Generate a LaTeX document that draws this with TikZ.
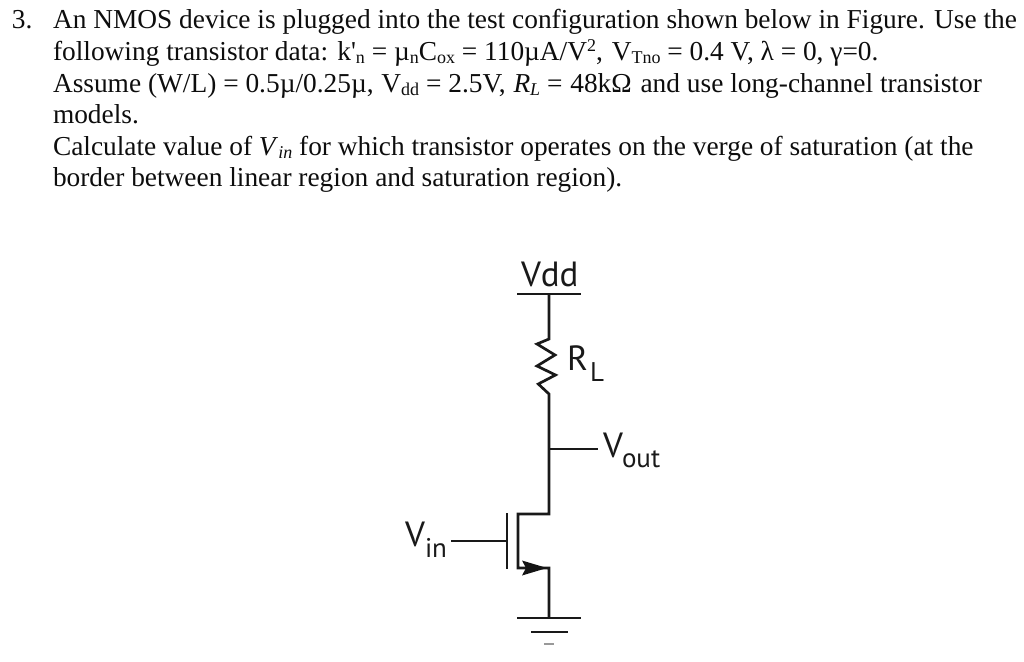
\documentclass[tikz,border=0pt]{standalone}
\usepackage{fontspec}
\setmainfont{Liberation Serif}
\newfontfamily\diagfont{PT Sans}
\newfontfamily\plainserif{Liberation Serif}
\usetikzlibrary{arrows.meta}
\newcommand{\lsub}[1]{\raisebox{-3pt}{\fontsize{18}{18}\selectfont #1}}
\newcommand{\lsubit}[1]{\raisebox{-3pt}{\fontsize{18}{18}\selectfont\itshape #1}}
\newcommand{\lsup}[1]{\raisebox{9pt}{\fontsize{18}{18}\selectfont #1}}
\tikzset{
  x=1pt,y=-1pt,
  textline/.style={anchor=base west,inner sep=0pt,outer sep=0pt,font=\fontsize{27.37}{30}\selectfont,text=black!95},
  wire/.style={draw=black!90,line width=2.7pt},
  label/.style={anchor=base west,inner sep=0pt,outer sep=0pt,font=\diagfont\fontsize{35}{37}\selectfont,text=black!90},
  sublabel/.style={anchor=base west,inner sep=0pt,outer sep=0pt,font=\diagfont\fontsize{27}{29}\selectfont,text=black!90},
}
\begin{document}
\begin{tikzpicture}
\useasboundingbox (0,0) rectangle (1024,661);
\node[textline] (num) at (12,29) {3.};
\node[textline] (l1) at (53,29) {An NMOS device is plugged into the test configuration shown below in Figure. Use the};
\node[textline] (l2) at (53,60) {following transistor data: k{\plainserif\symbol{39}}\lsub{n} = µ\lsub{n}C\lsub{ox} = 110µA/V\lsup{2},\hspace{2pt} V\lsub{Tno} = 0.4 V, λ = 0, γ=0.};
\node[textline] (l3) at (53,92) {Assume (W/L) = 0.5µ/0.25µ,\hspace{1pt} V\lsub{dd} = 2.5V,\hspace{1pt} \textit{R}\lsubit{L} =\hspace{1pt} 48kΩ\hspace{2pt} and use long-channel transistor};
\node[textline] (l4) at (53,123) {models.};
\node[textline] (l5) at (53,155) {Calculate value of \textit{V}\lsubit{in} for which transistor operates on the verge of saturation (at the};
\node[textline] (l6) at (53,186) {border between linear region and saturation region).};

\coordinate (vddL) at (517,294);
\coordinate (vddR) at (581,294);
\coordinate (vddC) at (549,294);
\coordinate (rTop) at (549,339);
\coordinate (rBot) at (549,394);
\coordinate (junc) at (549,449);
\coordinate (voutEnd) at (598,449);
\coordinate (drain) at (549,514);
\coordinate (chTop) at (518,514);
\coordinate (chBot) at (518,568);
\coordinate (source) at (549,568);
\coordinate (gndC) at (549,618);
\coordinate (gndL) at (517,618);
\coordinate (gndR) at (581,618);
\coordinate (g2L) at (531,632);
\coordinate (g2R) at (568,632);
\coordinate (g3L) at (544,644);
\coordinate (g3R) at (554,644);
\coordinate (gateT) at (507,513);
\coordinate (gateB) at (507,569);
\coordinate (gateC) at (507,541);
\coordinate (gateIn) at (451,541);

\draw[wire] (vddL) -- (vddR);
\draw[wire] (vddC) -- (rTop)
  -- (537,344) -- (555,355) -- (537,366) -- (555.5,375) -- (538.3,384) -- (rBot)
  -- (junc) -- (drain) -- (chTop) -- (chBot) -- (source) -- (gndC);
\draw[wire] (junc) -- (voutEnd);
\draw[wire] (gndL) -- (gndR);
\draw[wire] (g2L) -- (g2R);
\draw[draw=black!40,line width=1.6pt] (g3L) -- (g3R);
\draw[wire] (gateT) -- (gateB);
\draw[wire] (gateIn) -- (gateC);
\fill[black!92] (547,568) -- (522,560.5) -- (526,568) -- (522,575.5) -- cycle;

\node[label] (vdd) at (521,286) {Vdd};
\node[label] (rl) at (567,370) {R};
\node[sublabel] (rlsub) at (590,381) {L};
\node[label] (vout) at (603,457) {V};
\node[sublabel] (voutsub) at (622,467) {out};
\node[label] (vin) at (405,546) {V};
\node[sublabel] (vinsub) at (425,557) {in};
\end{tikzpicture}
\end{document}
